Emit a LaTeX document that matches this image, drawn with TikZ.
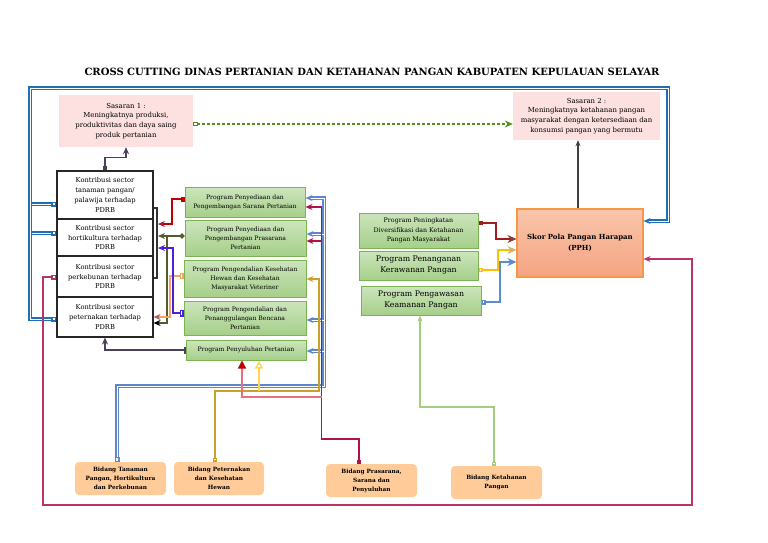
\documentclass[tikz,border=0pt]{standalone}
\usepackage{fontspec}
\setmainfont{DejaVu Serif}
\usetikzlibrary{arrows.meta,calc}
\definecolor{sasfill}{HTML}{FDE0E0}
\definecolor{progtop}{HTML}{CCE5BC}
\definecolor{progbot}{HTML}{A6CF8A}
\definecolor{progdraw}{HTML}{7CB454}
\definecolor{pphtop}{HTML}{F9C6AA}
\definecolor{pphbot}{HTML}{F4A482}
\definecolor{pphdraw}{HTML}{F79646}
\definecolor{bidfill}{HTML}{FFCC99}
\definecolor{frameblue}{HTML}{1F6FB8}
\definecolor{magloop}{HTML}{B83468}
\definecolor{dashgreen}{HTML}{4E8F1E}
\definecolor{kpurple}{HTML}{4B3F5A}
\definecolor{rdred}{HTML}{A51C1C}
\definecolor{rdarrow}{HTML}{8B3A3A}
\definecolor{goldln}{HTML}{FFC000}
\definecolor{tanarrow}{HTML}{D4B06A}
\definecolor{softblue}{HTML}{5B8BD0}
\definecolor{pred}{HTML}{C00000}
\definecolor{oliveln}{HTML}{5A5A28}
\definecolor{orangeln}{HTML}{F4A460}
\definecolor{violetln}{HTML}{4B1FE0}
\definecolor{bidblue}{HTML}{5F86CC}
\definecolor{bidgold}{HTML}{C9A227}
\definecolor{lightyel}{HTML}{FFD54F}
\definecolor{crimsonln}{HTML}{B0124A}
\definecolor{pinkred}{HTML}{E8707A}
\definecolor{lgreen}{HTML}{9FCF7F}
\tikzset{
  sasbox/.style={fill=sasfill, draw=none, align=center, font=\fontsize{6.9}{9.8}\selectfont, inner sep=1pt},
  progbox/.style={top color=progtop, bottom color=progbot, draw=progdraw, line width=1pt, align=center, font=\fontsize{6.1}{9}\selectfont, inner sep=1pt},
  rbox/.style={top color=progtop, bottom color=progbot, draw=progdraw, line width=1pt, align=center, inner sep=1pt},
  kbox/.style={draw=black!85, line width=1.1pt, fill=white, align=center, font=\fontsize{6.7}{9.8}\selectfont, inner sep=1pt},
  bidbox/.style={fill=bidfill, rounded corners=4pt, align=center, font=\bfseries\fontsize{5.8}{9}\selectfont, inner sep=1pt},
  pphbox/.style={top color=pphtop, bottom color=pphbot, draw=pphdraw, line width=1.1pt, align=center, font=\bfseries\fontsize{7}{11}\selectfont},
  bluedbl/.style={frameblue, line width=1.2pt, double=white, double distance=0.9pt},
  bidbl/.style={bidblue, line width=1.2pt, double=white, double distance=0.9pt},
  ln/.style={line width=1.4pt},
}
\begin{document}
\begin{tikzpicture}[x=1pt,y=-1pt]
\useasboundingbox (0,0) rectangle (768,543);
% title
\node[font=\bfseries\fontsize{10}{12}\selectfont] (title) at (372,72) {CROSS CUTTING DINAS PERTANIAN DAN KETAHANAN PANGAN KABUPATEN KEPULAUAN SELAYAR};
% sasaran
\node[sasbox, minimum width=134pt, minimum height=52pt] (s1) at (126,121) {Sasaran 1 :\\Meningkatnya produksi,\\produktivitas dan daya saing\\produk pertanian};
\node[sasbox, minimum width=147pt, minimum height=48pt] (s2) at (586.5,116) {Sasaran 2 :\\Meningkatnya ketahanan pangan\\masyarakat dengan ketersediaan dan\\konsumsi pangan yang bermutu};
% kontribusi
\node[kbox, minimum width=96pt, minimum height=48pt] (k1) at (105,195) {Kontribusi sector\\tanaman pangan/\\palawija terhadap\\PDRB};
\node[kbox, minimum width=96pt, minimum height=37pt] (k2) at (105,237.5) {Kontribusi sector\\hortikultura terhadap\\PDRB};
\node[kbox, minimum width=96pt, minimum height=41pt] (k3) at (105,276.5) {Kontribusi sector\\perkebunan terhadap\\PDRB};
\node[kbox, minimum width=96pt, minimum height=40pt] (k4) at (105,317) {Kontribusi sector\\peternakan terhadap\\PDRB};
% programs left
\node[progbox, minimum width=120pt, minimum height=30pt] (p1) at (245,202) {Program Penyediaan dan\\Pengembangan Sarana Pertanian};
\node[progbox, minimum width=121pt, minimum height=36pt] (p2) at (245.5,238) {Program Penyediaan dan\\Pengembangan Prasarana\\Pertanian};
\node[progbox, minimum width=122pt, minimum height=37pt] (p3) at (245,278.5) {Program Pengendalian Kesehatan\\Hewan dan Kesehatan\\Masyarakat Veteriner};
\node[progbox, minimum width=122pt, minimum height=34pt] (p4) at (245,318) {Program Pengendalian dan\\Penanggulangan Bencana\\Pertanian};
\node[progbox, minimum width=120pt, minimum height=20pt] (p5) at (246,350) {Program Penyuluhan Pertanian};
% programs right
\node[rbox, font=\fontsize{6.3}{9.2}\selectfont, minimum width=119pt, minimum height=35pt] (r1) at (418.5,230.5) {Program Peningkatan\\Diversifikasi dan Ketahanan\\Pangan Masyarakat};
\node[rbox, font=\fontsize{7.8}{11}\selectfont, minimum width=119pt, minimum height=29pt] (r2) at (418.5,265.5) {Program Penanganan\\Kerawanan Pangan};
\node[rbox, font=\fontsize{7.8}{11}\selectfont, minimum width=120pt, minimum height=29pt] (r3) at (421,300.5) {Program Pengawasan\\Keamanan Pangan};
% PPH
\node[pphbox, minimum width=126pt, minimum height=68pt] (pph) at (580,243) {Skor Pola Pangan Harapan\\(PPH)};
% bidang
\node[bidbox, minimum width=91pt, minimum height=33pt] (b1) at (120.5,478.5) {Bidang Tanaman\\Pangan, Hortikultura\\dan Perkebunan};
\node[bidbox, minimum width=90pt, minimum height=33pt] (b2) at (219,478.5) {Bidang Peternakan\\dan Kesehatan\\Hewan};
\node[bidbox, minimum width=91pt, minimum height=33pt] (b3) at (371.5,480.5) {Bidang Prasarana,\\Sarana dan\\Penyuluhan};
\node[bidbox, minimum width=91pt, minimum height=33pt] (b4) at (496.5,482.5) {Bidang Ketahanan\\Pangan};
% bracket
\draw[black!80, line width=1.1pt] (k1.east |- 0,208) -- (157,208) -- (157,278) -- (k3.east |- 0,278);
\coordinate (brk) at (158,0);
% green dashed
\draw[dashgreen, line width=1.1pt, dash pattern=on 3pt off 2pt, {Square[open,length=4.5pt,width=4.5pt]}-{Stealth[length=8pt,width=7pt]}] (s1.east |- 0,124) -- (s2.west |- 0,124);
% purple to sasaran 1
\draw[kpurple, line width=1.6pt, {Square[open,length=4pt,width=4pt]}-{Stealth[length=7pt,width=6pt]}] (k1.north) -- ++(0,-13) -| (s1.south);
% black to sasaran 2
\draw[black!75, line width=1.1pt, -{Stealth[length=6pt,width=5pt]}] (pph.north -| 578,0) -- (s2.south -| 578,0);
% blue frame
\draw[bluedbl, {Square[open,length=5pt,width=5pt]}-] (k1.west |- 0,204) -- (30,204);
\draw[bluedbl, {Square[open,length=5pt,width=5pt]}-] (k2.west |- 0,233) -- (30,233);
\draw[bluedbl, {Square[open,length=5pt,width=5pt]}-{Stealth[length=7pt,width=6pt]}] (k4.west |- 0,319) -- (30,319) -- (30,88) -- (668,88) -- (668,221) -- (pph.east |- 0,221);
% magenta loop
\draw[magloop, line width=1.6pt, {Square[open,length=5pt,width=5pt]}-{Stealth[length=7pt,width=6pt]}] (k3.west |- 0,277) -- (43,277) -- (43,505) -- (692,505) -- (692,259) -- (pph.east |- 0,259);
% right programs to PPH
\draw[rdred, ln, {Square[length=4pt,width=4pt]}-{Stealth[length=9pt,width=8pt,color=rdarrow]}] (r1.east |- 0,223) -| (496,239) -- (pph.west |- 0,239);
\draw[goldln, ln, {Square[open,length=4pt,width=4pt]}-{Stealth[length=9pt,width=8pt,color=tanarrow]}] (r2.east |- 0,270) -| (498,250) -- (pph.west |- 0,250);
\draw[softblue, ln, {Square[open,length=4pt,width=5pt]}-{Stealth[length=9pt,width=8pt]}] (r3.east |- 0,302) -| (500,262) -- (pph.west |- 0,262);
% left programs to kontribusi
\draw[pred, ln, {Square[length=4pt,width=5pt]}-{Stealth[length=7pt,width=6pt,color=crimsonln]}] (p1.west |- 0,199) -| (172,224) -- (brk |- 0,224);
\draw[oliveln, ln, {Circle[length=5pt,width=5pt]}-{Stealth[length=7pt,width=6pt]}] (p2.west |- 0,236) -- (brk |- 0,236);
\draw[oliveln, ln, -{Stealth[length=7pt,width=6pt,color=black]}] (167,236) -- (167,323) -- (k4.east |- 0,323);
\draw[orangeln, ln, {Square[open,length=3.5pt,width=6pt]}-{Stealth[length=7pt,width=6pt,color=rdarrow!80]}] (p3.west |- 0,276) -| (170,317) -- (k4.east |- 0,317);
\draw[violetln, ln, {Square[open,length=3.5pt,width=7pt]}-{Stealth[length=7pt,width=6pt]}] (p4.west |- 0,313) -| (173,248) -- (brk |- 0,248);
\draw[kpurple, ln, {Bar[width=7pt]}-{Stealth[length=7pt,width=6pt]}] (p5.west) -| (k4.south);
% bidang tanaman (blue)
\draw[bidbl, {Square[open,length=5pt,width=5pt]}-{Stealth[length=7pt,width=6pt]}] (b1.north -| 117,0) |- (324,386) -- (324,198) -- (p1.east |- 0,198);
\draw[bidbl, -{Stealth[length=7pt,width=6pt]}] (324,234) -- (p2.east |- 0,234);
\draw[bidbl, -{Stealth[length=7pt,width=6pt]}] (324,320) -- (p4.east |- 0,320);
\draw[bidbl, -{Stealth[length=7pt,width=6pt]}] (324,351) -- (p5.east |- 0,351);
% bidang peternakan (gold)
\draw[bidgold, ln, {Square[open,length=4pt,width=4pt]}-{Stealth[length=7pt,width=6pt]}] (b2.north -| 215,0) |- (319,391) -- (319,279) -- (p3.east |- 0,279);
\draw[lightyel, ln, -{Triangle[open,length=8pt,width=8pt]}] (259,391) -- (p5.south -| 259,0);
% bidang prasarana (crimson)
\draw[crimsonln, line width=1.6pt, {Square[length=4pt,width=4pt]}-{Stealth[length=7pt,width=6pt]}] (b3.north -| 359,0) -- (359,439) -- (321.5,439) -- (321.5,207) -- (p1.east |- 0,207);
\draw[crimsonln, line width=1.6pt, -{Stealth[length=7pt,width=6pt]}] (321.5,241) -- (p2.east |- 0,241);
\draw[pinkred, line width=1.2pt, -{Triangle[length=8pt,width=8pt,color=pred]}] (321.5,397) -- (242,397) -- (p5.south -| 242,0);
% bidang ketahanan pangan (green)
\draw[lgreen, ln, {Square[open,length=4pt,width=4pt]}-{Stealth[length=6pt,width=5pt]}] (b4.north -| 494,0) |- (420,407) -- (r3.south -| 420,0);
\end{tikzpicture}
\end{document}
